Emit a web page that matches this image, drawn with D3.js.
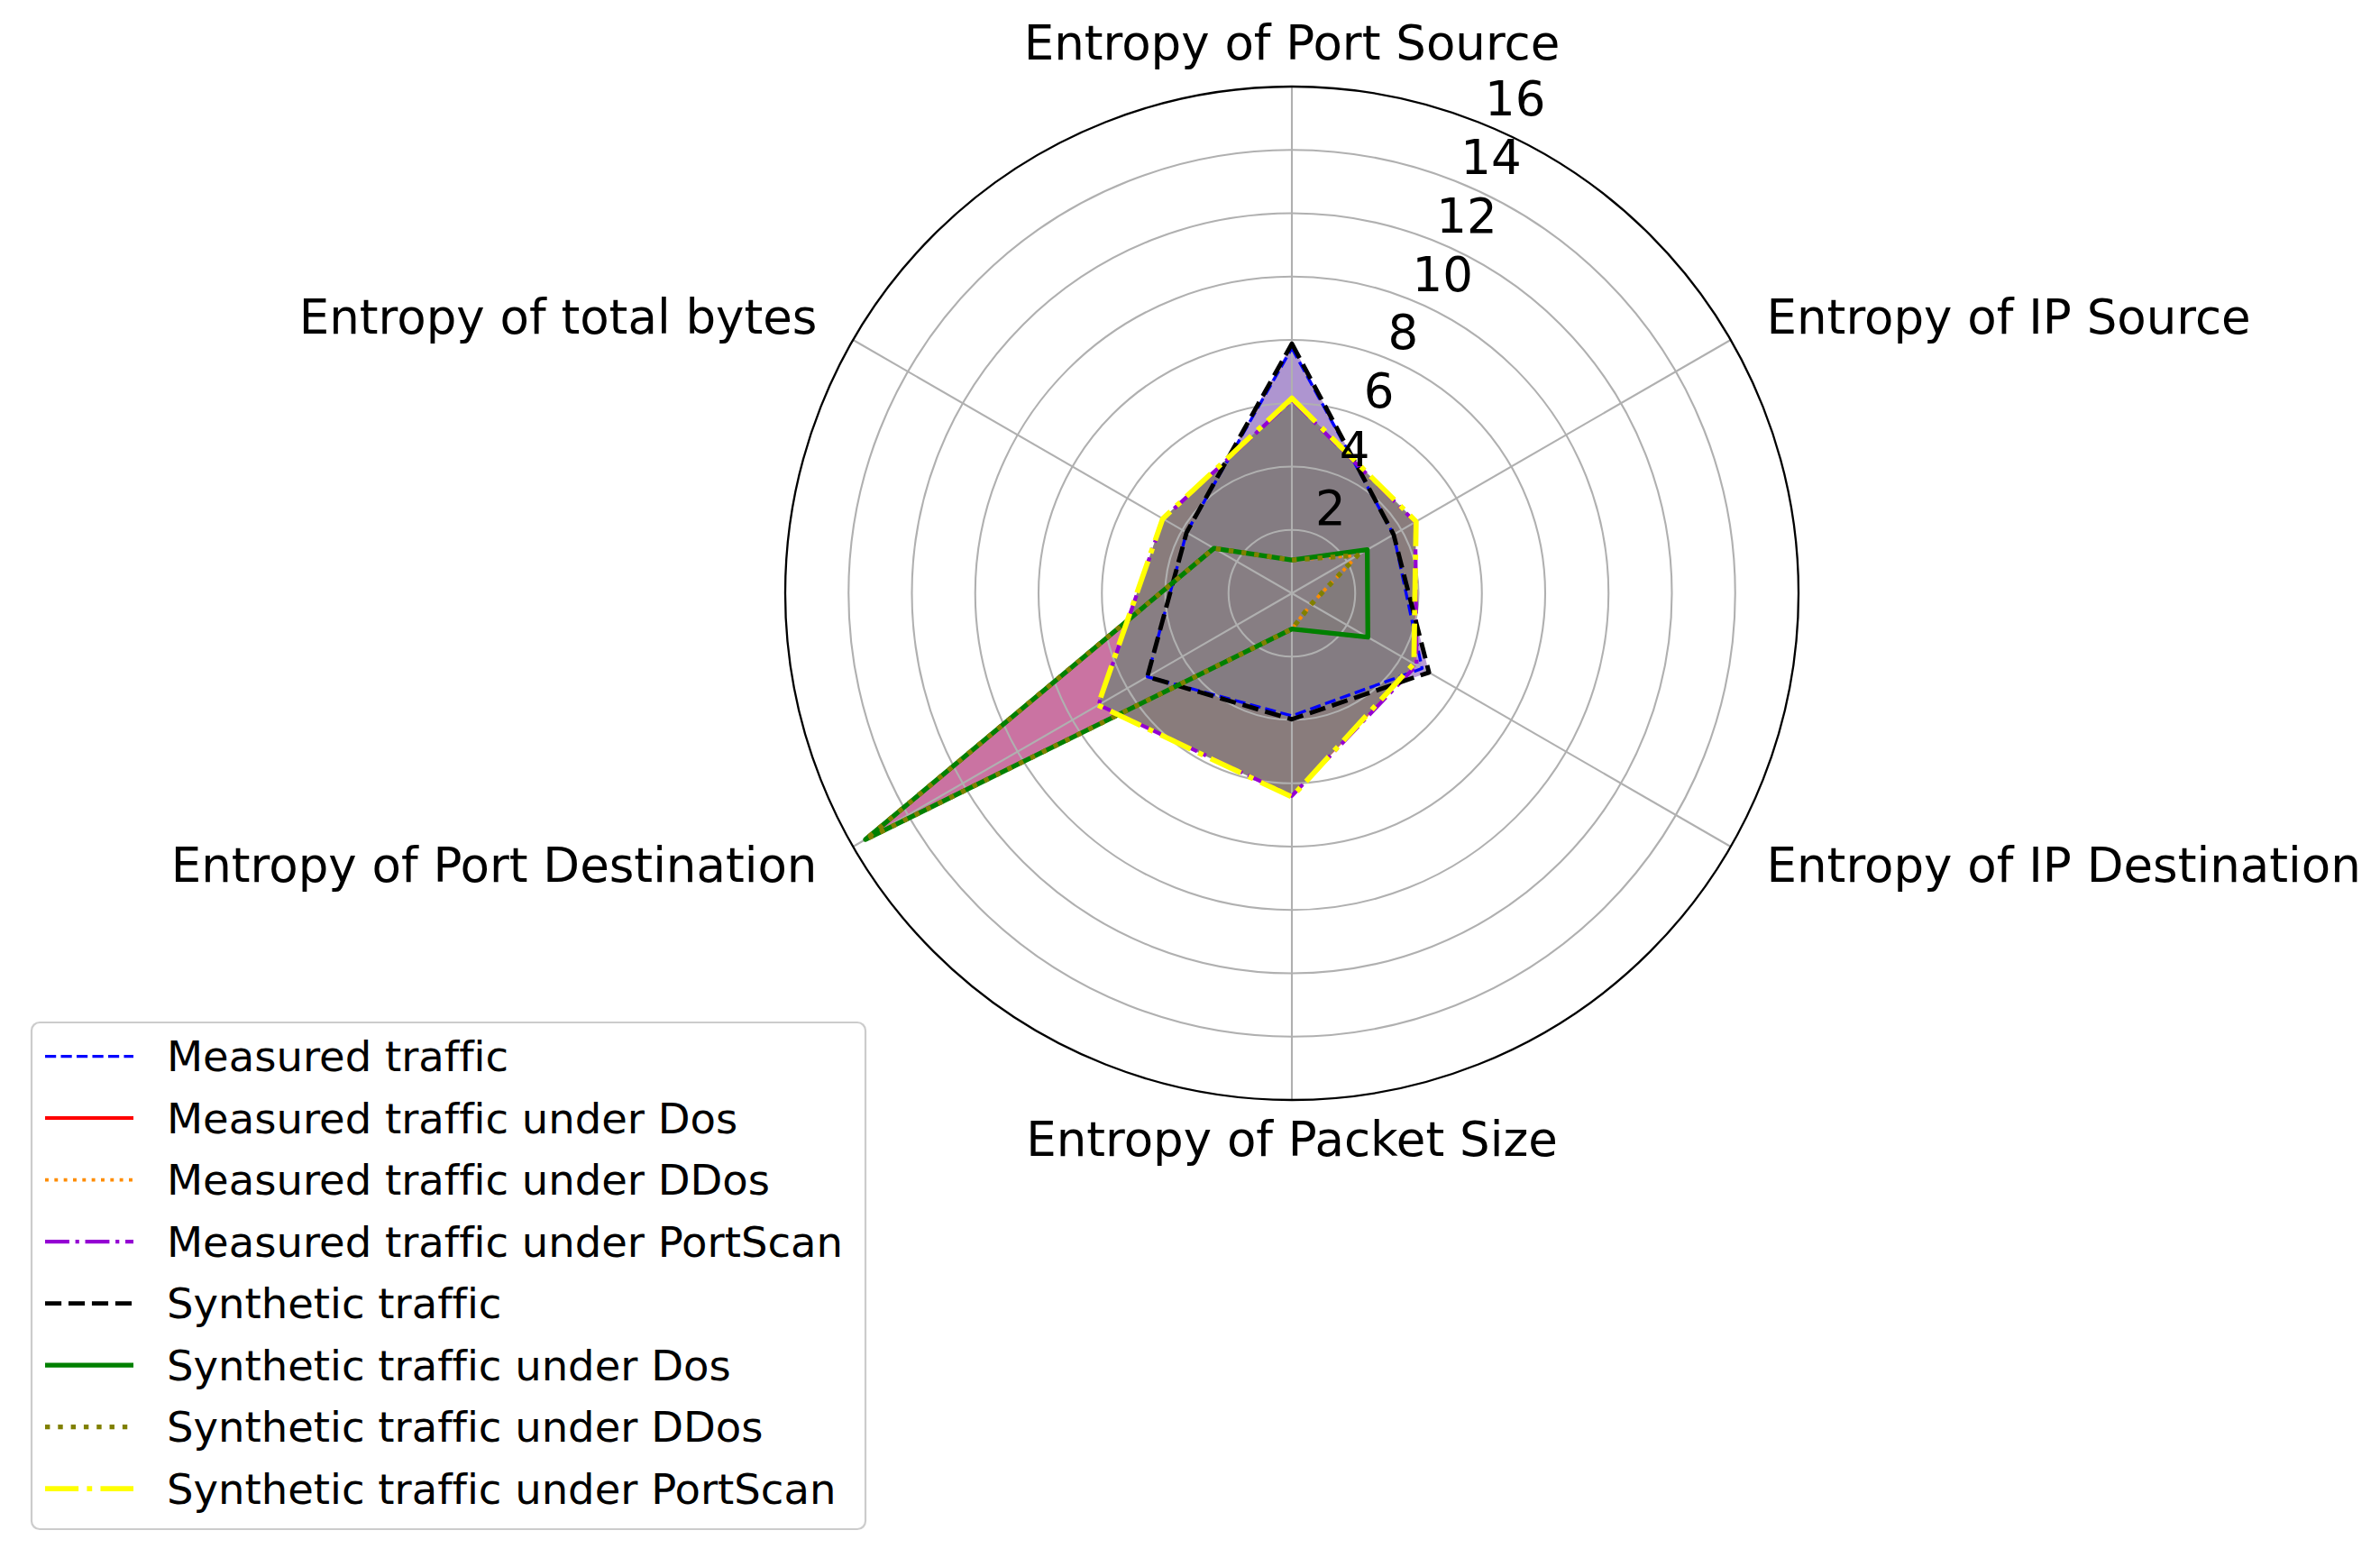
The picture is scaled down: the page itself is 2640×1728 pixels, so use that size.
<!DOCTYPE html>
<html>
<head>
<meta charset="utf-8">
<script src="https://cdnjs.cloudflare.com/ajax/libs/d3/7.8.5/d3.min.js"></script>
<style>
  body { margin: 0; background: #fff; }
  svg text { font-family: "DejaVu Sans", sans-serif; font-variant-ligatures: none; fill: #000; }
</style>
</head>
<body>
<svg id="chart" width="2640" height="1728"></svg>
<script>
// axes, clockwise from the top
var categories = ["Entropy of Port Source", "Entropy of IP Source", "Entropy of IP Destination",
                  "Entropy of Packet Size", "Entropy of Port Destination", "Entropy of total bytes"];
var radialTicks = [2, 4, 6, 8, 10, 12, 14, 16];

var seriesNames = ["Measured traffic", "Measured traffic under Dos", "Measured traffic under DDos",
                   "Measured traffic under PortScan", "Synthetic traffic", "Synthetic traffic under Dos",
                   "Synthetic traffic under DDos", "Synthetic traffic under PortScan"];

var measured          = [7.74, 3.71, 4.75, 3.87, 5.27, 3.84];
var measuredDos       = [1.05, 2.75, 2.77, 1.13, 15.55, 2.84];
var measuredDDos      = [1.05, 2.40, 0.70, 1.13, 15.55, 2.84];
var measuredPortScan  = [6.10, 4.50, 4.55, 6.40, 7.05, 4.70];
var synthetic         = [7.88, 3.71, 5.00, 3.98, 5.27, 3.84];
var syntheticDos      = [1.05, 2.75, 2.77, 1.13, 15.55, 2.84];
var syntheticDDos     = [1.05, 2.40, 0.70, 1.13, 15.55, 2.84];
var syntheticPortScan = [6.16, 4.53, 4.45, 6.43, 7.07, 4.71];

var seriesValues = [measured, measuredDos, measuredDDos, measuredPortScan,
                    synthetic, syntheticDos, syntheticDDos, syntheticPortScan];

// line look per series (line colour, dash kind, width) and the fill colour cycle
var lineColors = ["blue", "red", "darkorange", "darkviolet", "black", "green", "olive", "yellow"];
var lineStyles = ["dashed", "solid", "dotted", "dashdot", "dashed", "solid", "dotted", "dashdot"];
var lineWidths = [3.3, 4, 3.9, 4.2, 4.9, 5.3, 5.4, 5.8];
var fillColors = d3.schemeCategory10;
var fillAlpha = [0.15, 0.75, 0.75, 0.75, 0.65, 0.75, 0.75, 0.9];

var cx = 1433, cy = 658, R = 562;
var labelSize = 53, legendSize = 46.5;

var svg = d3.select("#chart");
var g = svg.append("g").attr("transform", "translate(" + cx + "," + cy + ")");

var r = d3.scaleLinear().domain([0, 16]).range([0, R]);
var angle = d3.scaleLinear().domain([0, categories.length]).range([0, 2 * Math.PI]);

function dash(style, lw) {
  if (style == "dashed") return [3.7 * lw, 1.6 * lw].join(",");
  if (style == "dotted") return [1 * lw, 1.65 * lw].join(",");
  if (style == "dashdot") return [6.4 * lw, 1.6 * lw, 1 * lw, 1.6 * lw].join(",");
  return null;
}

var radar = d3.lineRadial()
  .angle(function (d, i) { return angle(i); })
  .radius(function (d) { return r(d); })
  .curve(d3.curveLinearClosed);

// fills first (they sit under the grid)
g.selectAll(".area")
  .data(seriesValues)
  .enter()
  .append("path")
  .attr("class", "area")
  .attr("d", radar)
  .attr("fill", function (d, i) { return fillColors[i]; })
  .attr("fill-opacity", function (d, i) { return fillAlpha[i]; })
  .attr("stroke", "none");

// grid circles and spokes
g.selectAll(".ring")
  .data(radialTicks.slice(0, -1))
  .enter()
  .append("circle")
  .attr("r", function (d) { return r(d); })
  .attr("fill", "none")
  .attr("stroke", "#b0b0b0")
  .attr("stroke-width", 2.1);

g.selectAll(".spoke")
  .data(categories)
  .enter()
  .append("line")
  .attr("x1", 0).attr("y1", 0)
  .attr("x2", function (d, i) { return r(16) * Math.sin(angle(i)); })
  .attr("y2", function (d, i) { return -r(16) * Math.cos(angle(i)); })
  .attr("stroke", "#b0b0b0")
  .attr("stroke-width", 2.1);

g.append("circle")
  .attr("r", r(16))
  .attr("fill", "none")
  .attr("stroke", "#000")
  .attr("stroke-width", 2.3);

// series outlines
g.selectAll(".line")
  .data(seriesValues)
  .enter()
  .append("path")
  .attr("class", "line")
  .attr("d", radar)
  .attr("fill", "none")
  .attr("stroke", function (d, i) { return lineColors[i]; })
  .attr("stroke-width", function (d, i) { return lineWidths[i]; })
  .attr("stroke-dasharray", function (d, i) { return dash(lineStyles[i], lineWidths[i]); })
  .attr("stroke-linejoin", "round");

// radial tick labels at 22.5 degrees
var tickAngle = 22.5 * Math.PI / 180;
g.selectAll(".rtick")
  .data(radialTicks)
  .enter()
  .append("text")
  .attr("x", function (d) { return r(d) * Math.sin(tickAngle) - 1; })
  .attr("y", function (d) { return -r(d) * Math.cos(tickAngle) - 11; })
  .attr("font-size", labelSize)
  .text(function (d) { return d; });

// axis labels
var labelR = r(16) + 46;
g.selectAll(".alabel")
  .data(categories)
  .enter()
  .append("text")
  .attr("x", function (d, i) { return labelR * Math.sin(angle(i)); })
  .attr("y", function (d, i) { return -labelR * Math.cos(angle(i)) + 0.3 * labelSize; })
  .attr("text-anchor", function (d, i) {
    var s = Math.sin(angle(i));
    return s > 0.01 ? "start" : (s < -0.01 ? "end" : "middle");
  })
  .attr("font-size", labelSize)
  .text(function (d) { return d; });

// legend
var legend = svg.append("g");
legend.append("rect")
  .attr("x", 35).attr("y", 1134)
  .attr("width", 925).attr("height", 562)
  .attr("rx", 9)
  .attr("fill", "#fff").attr("fill-opacity", 0.8)
  .attr("stroke", "#cccccc").attr("stroke-width", 2.2);

var rowY = d3.scaleLinear().domain([0, 1]).range([1171.6, 1240.1]);
var rows = legend.selectAll(".row")
  .data(seriesNames)
  .enter()
  .append("g")
  .attr("transform", function (d, i) { return "translate(0," + rowY(i) + ")"; });

rows.append("line")
  .attr("x1", 50).attr("x2", 148)
  .attr("stroke", function (d, i) { return lineColors[i]; })
  .attr("stroke-width", function (d, i) { return lineWidths[i]; })
  .attr("stroke-dasharray", function (d, i) { return dash(lineStyles[i], lineWidths[i]); });

rows.append("text")
  .attr("x", 185)
  .attr("y", 0.36 * legendSize)
  .attr("font-size", legendSize)
  .text(function (d) { return d; });
</script>
</body>
</html>
